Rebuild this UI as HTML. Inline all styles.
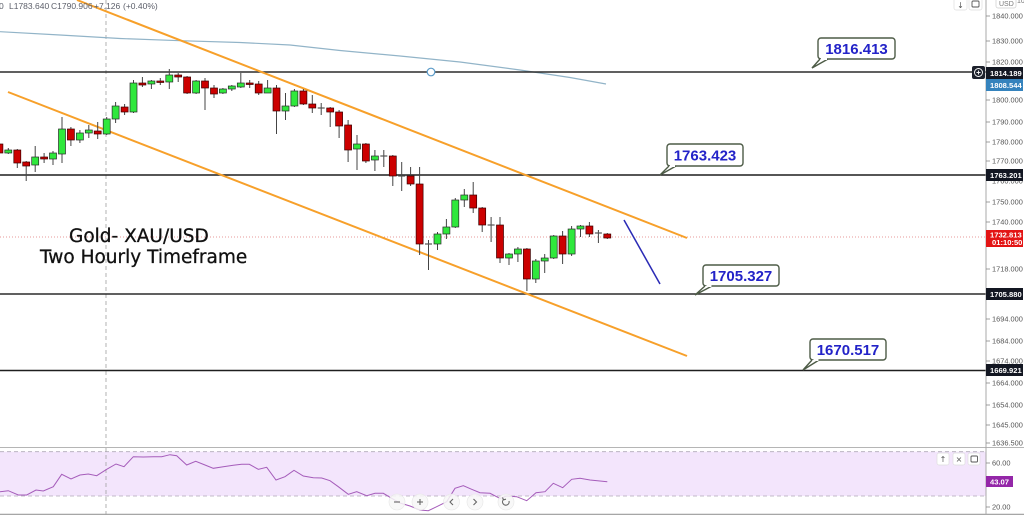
<!DOCTYPE html>
<html>
<head>
<meta charset="utf-8">
<style>
html,body{margin:0;padding:0;background:#fff;}
body{width:1024px;height:515px;overflow:hidden;}
svg{display:block;}
.ax{font-family:"Liberation Sans",sans-serif;font-size:7.4px;fill:#555;}
.lb{font-family:"Liberation Sans",sans-serif;font-size:7.6px;font-weight:bold;fill:#fff;}
.co{font-family:"Liberation Sans",sans-serif;font-size:15px;font-weight:bold;fill:#2323c8;}
.hd{font-family:"Liberation Sans",sans-serif;font-size:8.5px;fill:#5d606b;}
.tt{font-family:"DejaVu Sans","Liberation Sans",sans-serif;font-size:18.5px;fill:#111;stroke:#111;stroke-width:0.3;}
.w{stroke:#444;stroke-width:1;}
.g{fill:#2fe83c;stroke:#2a2a2a;stroke-width:0.7;}
.r{fill:#cc0000;stroke:#3a0000;stroke-width:0.7;}
.d{stroke:#555;stroke-width:1.2;}
</style>
</head>
<body>
<svg width="1024" height="515" viewBox="0 0 1024 515" xmlns="http://www.w3.org/2000/svg">
<rect width="1024" height="515" fill="#fff"/>

<!-- RSI pane band -->
<rect x="0" y="451.7" width="986" height="44.3" fill="#f3e5fc"/>
<line x1="0" y1="451.7" x2="986" y2="451.7" stroke="#b0a8b8" stroke-width="0.8" stroke-dasharray="4 3"/>
<line x1="0" y1="496" x2="986" y2="496" stroke="#b0a8b8" stroke-width="0.8" stroke-dasharray="4 3"/>
<line x1="0" y1="447.5" x2="1024" y2="447.5" stroke="#b5b5b5" stroke-width="1"/>
<line x1="0" y1="514.3" x2="1024" y2="514.3" stroke="#9a9a9a" stroke-width="1.2"/>

<!-- vertical crosshair -->
<line x1="106" y1="0" x2="106" y2="515" stroke="#a0a0a0" stroke-width="0.8" stroke-dasharray="4 3"/>

<!-- MA line -->
<polyline fill="none" stroke="#92b4c8" stroke-width="1.2" points="0,31.7 60,35 120,38.5 180,40.7 240,42.5 290,45 340,50.5 400,56 460,62 520,70 570,77.5 606,84"/>

<!-- horizontal levels -->
<line x1="0" y1="72" x2="986" y2="72" stroke="#2b2b2b" stroke-width="1.5"/>
<line x1="0" y1="175" x2="986" y2="175" stroke="#1e1e1e" stroke-width="1.5"/>
<line x1="0" y1="294" x2="986" y2="294" stroke="#2b2b2b" stroke-width="1.5"/>
<line x1="0" y1="370.5" x2="986" y2="370.5" stroke="#1e1e1e" stroke-width="1.5"/>
<line x1="0" y1="237" x2="986" y2="237" stroke="#e07a7a" stroke-width="0.8" stroke-dasharray="1 2"/>
<circle cx="431" cy="72" r="3.8" fill="#fff" stroke="#5a9ac8" stroke-width="1.2"/>

<!-- channel -->
<line x1="77" y1="0" x2="687" y2="238" stroke="#f7a02a" stroke-width="2"/>
<line x1="8" y1="92" x2="687" y2="356" stroke="#f7a02a" stroke-width="2"/>
<line x1="624" y1="220" x2="660" y2="284" stroke="#2b2bb5" stroke-width="1.5"/>

<!-- candles -->
<g>
<line class="w" x1="-0.6" y1="142" x2="-0.6" y2="155"/><rect class="r" x="-4.1" y="144" width="7" height="9"/>
<line class="w" x1="8.3" y1="148" x2="8.3" y2="154"/><rect class="g" x="4.8" y="150" width="7" height="3"/>
<line class="w" x1="17.3" y1="149" x2="17.3" y2="168"/><rect class="r" x="13.8" y="150" width="7" height="13"/>
<line class="w" x1="26.2" y1="161" x2="26.2" y2="181"/><rect class="r" x="22.7" y="162" width="7" height="4"/>
<line class="w" x1="35.2" y1="146" x2="35.2" y2="172"/><rect class="g" x="31.7" y="157" width="7" height="8"/>
<line class="w" x1="44.1" y1="153" x2="44.1" y2="163"/><rect class="r" x="40.6" y="157" width="7" height="2"/>
<line class="w" x1="53" y1="151" x2="53" y2="165"/><rect class="g" x="49.5" y="153" width="7" height="6"/>
<line class="w" x1="62" y1="117" x2="62" y2="163"/><rect class="g" x="58.5" y="129" width="7" height="25"/>
<line class="w" x1="70.9" y1="127" x2="70.9" y2="146"/><rect class="r" x="67.4" y="129" width="7" height="11"/>
<line class="w" x1="79.9" y1="130" x2="79.9" y2="143"/><rect class="g" x="76.4" y="133" width="7" height="7"/>
<line class="w" x1="88.8" y1="125" x2="88.8" y2="138"/><rect class="g" x="85.3" y="130" width="7" height="3"/>
<line class="w" x1="97.7" y1="122" x2="97.7" y2="139"/><rect class="r" x="94.2" y="131" width="7" height="3"/>
<line class="w" x1="106.7" y1="117" x2="106.7" y2="135"/><rect class="g" x="103.2" y="119" width="7" height="15"/>
<line class="w" x1="115.6" y1="102" x2="115.6" y2="123"/><rect class="g" x="112.1" y="106" width="7" height="13"/>
<line class="w" x1="124.6" y1="104" x2="124.6" y2="115"/><rect class="r" x="121.1" y="107" width="7" height="5"/>
<line class="w" x1="133.5" y1="80" x2="133.5" y2="113"/><rect class="g" x="130" y="83" width="7" height="29"/>
<line class="w" x1="142.4" y1="77" x2="142.4" y2="87"/><rect class="r" x="138.9" y="83" width="7" height="2"/>
<line class="w" x1="151.4" y1="80" x2="151.4" y2="89"/><rect class="g" x="147.9" y="81" width="7" height="3"/>
<line class="w" x1="160.3" y1="78" x2="160.3" y2="85"/><rect class="r" x="156.8" y="81" width="7" height="1.5"/>
<line class="w" x1="169.3" y1="69" x2="169.3" y2="89"/><rect class="g" x="165.8" y="75" width="7" height="7"/>
<line class="w" x1="178.2" y1="73" x2="178.2" y2="82"/><rect class="r" x="174.7" y="75" width="7" height="2"/>
<line class="w" x1="187.1" y1="76" x2="187.1" y2="94"/><rect class="r" x="183.6" y="77" width="7" height="16"/>
<line class="w" x1="196.1" y1="80" x2="196.1" y2="94"/><rect class="g" x="192.6" y="81" width="7" height="12"/>
<line class="w" x1="205" y1="78" x2="205" y2="110"/><rect class="r" x="201.5" y="81" width="7" height="7"/>
<line class="w" x1="214" y1="85" x2="214" y2="98"/><rect class="r" x="210.5" y="88" width="7" height="6"/>
<line class="w" x1="222.9" y1="88" x2="222.9" y2="94"/><rect class="g" x="219.4" y="89" width="7" height="4"/>
<line class="w" x1="231.8" y1="85" x2="231.8" y2="91"/><rect class="g" x="228.3" y="86" width="7" height="3"/>
<line class="w" x1="240.8" y1="73" x2="240.8" y2="88"/><rect class="g" x="237.3" y="83" width="7" height="4"/>
<line class="w" x1="249.7" y1="80" x2="249.7" y2="88"/><rect class="r" x="246.2" y="83" width="7" height="1.5"/>
<line class="w" x1="258.7" y1="81" x2="258.7" y2="95"/><rect class="r" x="255.2" y="84" width="7" height="9"/>
<line class="w" x1="267.6" y1="80" x2="267.6" y2="93"/><rect class="g" x="264.1" y="88" width="7" height="5"/>
<line class="w" x1="276.5" y1="85" x2="276.5" y2="134"/><rect class="r" x="273" y="88" width="7" height="23"/>
<line class="w" x1="285.5" y1="93" x2="285.5" y2="120"/><rect class="g" x="282" y="106" width="7" height="5"/>
<line class="w" x1="294.4" y1="89" x2="294.4" y2="107"/><rect class="g" x="290.9" y="91" width="7" height="15"/>
<line class="w" x1="303.4" y1="89" x2="303.4" y2="105"/><rect class="r" x="299.9" y="91" width="7" height="13"/>
<line class="w" x1="312.3" y1="95" x2="312.3" y2="113"/><rect class="r" x="308.8" y="104" width="7" height="4"/>
<line class="w" x1="321.2" y1="103" x2="321.2" y2="115"/><line class="d" x1="317.7" y1="108" x2="324.7" y2="108"/>
<line class="w" x1="330.2" y1="107" x2="330.2" y2="127"/><rect class="r" x="326.7" y="108" width="7" height="4"/>
<line class="w" x1="339.1" y1="110" x2="339.1" y2="138"/><rect class="r" x="335.6" y="112" width="7" height="14"/>
<line class="w" x1="348.1" y1="120" x2="348.1" y2="162"/><rect class="r" x="344.6" y="125" width="7" height="25"/>
<line class="w" x1="357" y1="135" x2="357" y2="170"/><rect class="g" x="353.5" y="144" width="7" height="5"/>
<line class="w" x1="365.9" y1="143" x2="365.9" y2="163"/><rect class="r" x="362.4" y="144" width="7" height="17"/>
<line class="w" x1="374.9" y1="150" x2="374.9" y2="171"/><rect class="g" x="371.4" y="156" width="7" height="4"/>
<line class="w" x1="383.8" y1="150" x2="383.8" y2="167"/><line class="d" x1="380.3" y1="156" x2="387.3" y2="156"/>
<line class="w" x1="392.8" y1="155" x2="392.8" y2="186"/><rect class="r" x="389.3" y="156" width="7" height="20"/>
<line class="w" x1="401.7" y1="162" x2="401.7" y2="191"/><line class="d" x1="398.2" y1="176" x2="405.2" y2="176"/>
<line class="w" x1="410.6" y1="167" x2="410.6" y2="186"/><rect class="r" x="407.1" y="176" width="7" height="8"/>
<line class="w" x1="419.6" y1="167" x2="419.6" y2="255"/><rect class="r" x="416.1" y="184" width="7" height="60"/>
<line class="w" x1="428.5" y1="240" x2="428.5" y2="270"/><line class="d" x1="425" y1="244" x2="432" y2="244"/>
<line class="w" x1="437.5" y1="232" x2="437.5" y2="250"/><rect class="g" x="434" y="234" width="7" height="10"/>
<line class="w" x1="446.4" y1="219" x2="446.4" y2="239"/><rect class="g" x="442.9" y="227" width="7" height="7"/>
<line class="w" x1="455.3" y1="198" x2="455.3" y2="228"/><rect class="g" x="451.8" y="200" width="7" height="27"/>
<line class="w" x1="464.3" y1="189" x2="464.3" y2="207"/><rect class="g" x="460.8" y="195" width="7" height="5"/>
<line class="w" x1="473.2" y1="182" x2="473.2" y2="213"/><rect class="r" x="469.7" y="195" width="7" height="13"/>
<line class="w" x1="482.2" y1="207" x2="482.2" y2="232"/><rect class="r" x="478.7" y="208" width="7" height="17"/>
<line class="w" x1="491.1" y1="217" x2="491.1" y2="242"/><line class="d" x1="487.6" y1="225" x2="494.6" y2="225"/>
<line class="w" x1="500" y1="217" x2="500" y2="263"/><rect class="r" x="496.5" y="225" width="7" height="33"/>
<line class="w" x1="509" y1="253" x2="509" y2="265"/><rect class="g" x="505.5" y="254" width="7" height="4"/>
<line class="w" x1="517.9" y1="247" x2="517.9" y2="262"/><rect class="g" x="514.4" y="249" width="7" height="5"/>
<line class="w" x1="526.9" y1="248" x2="526.9" y2="291"/><rect class="r" x="523.4" y="249" width="7" height="30"/>
<line class="w" x1="535.8" y1="259" x2="535.8" y2="283"/><rect class="g" x="532.3" y="261" width="7" height="18"/>
<line class="w" x1="544.7" y1="254" x2="544.7" y2="273"/><rect class="g" x="541.2" y="258" width="7" height="3"/>
<line class="w" x1="553.7" y1="235" x2="553.7" y2="259"/><rect class="g" x="550.2" y="236" width="7" height="22"/>
<line class="w" x1="562.6" y1="231" x2="562.6" y2="264"/><rect class="r" x="559.1" y="236" width="7" height="18"/>
<line class="w" x1="571.6" y1="226" x2="571.6" y2="256"/><rect class="g" x="568.1" y="229" width="7" height="25"/>
<line class="w" x1="580.5" y1="225" x2="580.5" y2="237"/><rect class="g" x="577" y="226" width="7" height="3"/>
<line class="w" x1="589.4" y1="222" x2="589.4" y2="237"/><rect class="r" x="585.9" y="226" width="7" height="8"/>
<line class="w" x1="598.4" y1="230" x2="598.4" y2="243"/><line class="d" x1="594.9" y1="233" x2="601.9" y2="233"/>
<line class="w" x1="607.3" y1="233" x2="607.3" y2="239"/><rect class="r" x="603.8" y="234" width="7" height="4"/>
</g>

<!-- RSI line -->
<polyline fill="none" stroke="#a55cba" stroke-width="1" points="0,491.7 8.3,490.7 18.3,495 26.7,495 36,490 43.3,491 53.3,486.7 61.7,474.3 71,479 80,475 88.3,474 96.7,475.7 106.7,469.3 116,464 124,466.7 133.3,456.7 143.3,457 153.3,456.7 161.7,456.7 170,454.7 176.7,455.7 186.7,465 195.7,461.3 205,465 213.3,468.3 223.3,466.7 233.3,465.3 241.7,464.3 249.3,464.3 258.3,469.3 266.7,467.3 276,480 285,476.7 294,470.3 303.3,476 313.3,477.7 321.7,478 330,480.7 338.3,486.7 348.3,494.3 356.7,491.7 366.7,495.7 375,493.3 383.3,493.3 391.7,498.3 400,503 410,506 420,510 428.3,510.7 436.7,506.7 446.7,501.7 455,488.3 463.3,485.7 471.7,489.3 480,492.7 490,493.3 500,498.5 506.7,496 516.7,496.7 526.7,500.7 536,492.7 545,491.7 553.3,483.3 562.7,487.7 571.7,479.3 580,478.3 590,480 600,481 607.3,481.7"/>

<!-- nav buttons -->
<g fill="#f7f7f7" fill-opacity="0.85" stroke="#e6e6e6" stroke-width="0.6">
<circle cx="397" cy="502" r="8"/><circle cx="420" cy="502" r="8"/><circle cx="451.5" cy="502" r="8"/><circle cx="475" cy="502" r="8"/><circle cx="506" cy="502" r="8"/>
</g>
<g stroke="#666" stroke-width="1.1" fill="none">
<line x1="394" y1="502" x2="400" y2="502"/>
<line x1="417" y1="502" x2="423" y2="502"/><line x1="420" y1="499" x2="420" y2="505"/>
<polyline points="453,499 450,502 453,505"/>
<polyline points="473.5,499 476.5,502 473.5,505"/>
<path d="M503.5,499.5 A3.3,3.3 0 1 0 509,501"/><polyline points="502.5,497.5 503.5,499.8 506,499.2"/>
</g>

<!-- callouts -->
<g stroke="#4d5b46" stroke-width="1.4" fill="#fff">
<rect x="818" y="38" width="77" height="21" rx="3"/>
<polyline points="820,59 812,68 828,59"/>
<rect x="667" y="144" width="76" height="22" rx="3"/>
<polyline points="669,166 660,175 676,166"/>
<rect x="703" y="265" width="76" height="21" rx="3"/>
<polyline points="705,286 695,295 712,286"/>
<rect x="810" y="339" width="76" height="21" rx="3"/>
<polyline points="812,360 803,370 819,360"/>
</g>
<g fill="#fff">
<rect x="821" y="57.5" width="6" height="2.5"/>
<rect x="670" y="164.5" width="5" height="2.5"/>
<rect x="706.5" y="284.5" width="5" height="2.5"/>
<rect x="813.5" y="358.5" width="5" height="2.5"/>
</g>
<text class="co" x="856.5" y="54" text-anchor="middle">1816.413</text>
<text class="co" x="705" y="160.5" text-anchor="middle">1763.423</text>
<text class="co" x="741" y="281" text-anchor="middle">1705.327</text>
<text class="co" x="848" y="355" text-anchor="middle">1670.517</text>

<!-- title -->
<text class="tt" x="69" y="242">Gold- XAU/USD</text>
<text class="tt" x="40" y="263">Two Hourly Timeframe</text>

<!-- header -->
<text class="hd" x="-1" y="9">0</text>
<text class="hd" x="9" y="9">L1783.640</text>
<text class="hd" x="51" y="9">C1790.906</text>
<text class="hd" x="94" y="9">+7.126</text>
<text class="hd" x="123" y="9">(+0.40%)</text>

<!-- price axis -->
<rect x="986" y="0" width="38" height="447" fill="#fff"/>
<line x1="986" y1="0" x2="986" y2="515" stroke="#a8a8a8" stroke-width="1"/>
<g stroke="#888" stroke-width="0.8">
<line x1="986" y1="16" x2="990" y2="16"/><line x1="986" y1="41" x2="990" y2="41"/><line x1="986" y1="62" x2="990" y2="62"/>
<line x1="986" y1="100" x2="990" y2="100"/><line x1="986" y1="122" x2="990" y2="122"/><line x1="986" y1="142" x2="990" y2="142"/>
<line x1="986" y1="161" x2="990" y2="161"/><line x1="986" y1="202" x2="990" y2="202"/><line x1="986" y1="222" x2="990" y2="222"/>
<line x1="986" y1="269" x2="990" y2="269"/><line x1="986" y1="319" x2="990" y2="319"/><line x1="986" y1="341" x2="990" y2="341"/>
<line x1="986" y1="361" x2="990" y2="361"/><line x1="986" y1="383" x2="990" y2="383"/><line x1="986" y1="405" x2="990" y2="405"/>
<line x1="986" y1="425" x2="990" y2="425"/><line x1="986" y1="443" x2="990" y2="443"/><line x1="986" y1="463" x2="990" y2="463"/>
<line x1="986" y1="507" x2="990" y2="507"/>
</g>
<g class="ax">
<text x="992" y="18.5">1840.000</text>
<text x="992" y="43.5">1830.000</text>
<text x="992" y="64.5">1820.000</text>
<text x="992" y="102.5">1800.000</text>
<text x="992" y="124.5">1790.000</text>
<text x="992" y="144.5">1780.000</text>
<text x="992" y="163.5">1770.000</text>
<text x="992" y="183.5">1760.000</text>
<text x="992" y="204.5">1750.000</text>
<text x="992" y="224.5">1740.000</text>
<text x="992" y="271.5">1718.000</text>
<text x="992" y="321.5">1694.000</text>
<text x="992" y="343.5">1684.000</text>
<text x="992" y="363.5">1674.000</text>
<text x="992" y="385.5">1664.000</text>
<text x="992" y="407.5">1654.000</text>
<text x="992" y="427.5">1645.000</text>
<text x="992" y="445.5">1636.500</text>
<text x="992" y="465.5">60.00</text>
<text x="992" y="509.5">20.00</text>
</g>

<!-- price labels -->
<rect x="972" y="66" width="13" height="13" rx="2" fill="#1e222d"/>
<circle cx="978.5" cy="72.5" r="4" fill="none" stroke="#fff" stroke-width="0.9"/>
<line x1="976.5" y1="72.5" x2="980.5" y2="72.5" stroke="#fff" stroke-width="0.9"/>
<line x1="978.5" y1="70.5" x2="978.5" y2="74.5" stroke="#fff" stroke-width="0.9"/>
<rect x="986" y="67" width="37" height="12" fill="#131722"/>
<text class="lb" x="990" y="75.8">1814.189</text>
<rect x="986" y="79" width="37" height="12" fill="#3583bd"/>
<text class="lb" x="990" y="87.8">1808.544</text>
<rect x="986" y="169" width="37" height="12" fill="#131722"/>
<text class="lb" x="990" y="177.8">1763.201</text>
<rect x="986" y="230" width="37" height="17" fill="#e31414"/>
<text class="lb" x="990" y="237.5">1732.813</text>
<text class="lb" x="992" y="245">01:10:50</text>
<rect x="986" y="288" width="37" height="12" fill="#131722"/>
<text class="lb" x="990" y="296.8">1705.880</text>
<rect x="986" y="364" width="37" height="12" fill="#131722"/>
<text class="lb" x="990" y="372.8">1669.921</text>
<rect x="986" y="476" width="27" height="11" fill="#9427a8"/>
<text class="lb" x="990" y="484.3">43.07</text>

<!-- top right controls -->
<rect x="954" y="-2" width="13" height="12" rx="2" fill="#fff" stroke="#ddd" stroke-width="0.7"/>
<text x="960.5" y="8" text-anchor="middle" font-family="DejaVu Sans,sans-serif" font-size="8" fill="#555">↓</text>
<rect x="969" y="-2" width="13" height="12" rx="2" fill="#fff" stroke="#ddd" stroke-width="0.7"/>
<rect x="972" y="1" width="7" height="6" rx="1" fill="none" stroke="#555" stroke-width="0.9"/>
<rect x="996" y="-3" width="20" height="11" rx="2" fill="#fff" stroke="#ccc" stroke-width="0.7"/>
<text x="999" y="6" font-family="Liberation Sans,sans-serif" font-size="7" fill="#777">USD</text>
<text x="1017" y="3" font-family="Liberation Sans,sans-serif" font-size="7" fill="#777">10</text>

<!-- RSI controls -->
<rect x="937" y="453" width="12" height="12" rx="2" fill="#fff" stroke="#ddd" stroke-width="0.7"/>
<text x="943" y="462" text-anchor="middle" font-family="DejaVu Sans,sans-serif" font-size="8" fill="#555">↑</text>
<rect x="953" y="453" width="12" height="12" rx="2" fill="#fff" stroke="#ddd" stroke-width="0.7"/>
<text x="959" y="462" text-anchor="middle" font-family="DejaVu Sans,sans-serif" font-size="8" fill="#555">×</text>
<rect x="968" y="453" width="12" height="12" rx="2" fill="#fff" stroke="#ddd" stroke-width="0.7"/>
<rect x="971" y="456" width="6.5" height="6" rx="1" fill="none" stroke="#555" stroke-width="0.9"/>
</svg>
</body>
</html>
